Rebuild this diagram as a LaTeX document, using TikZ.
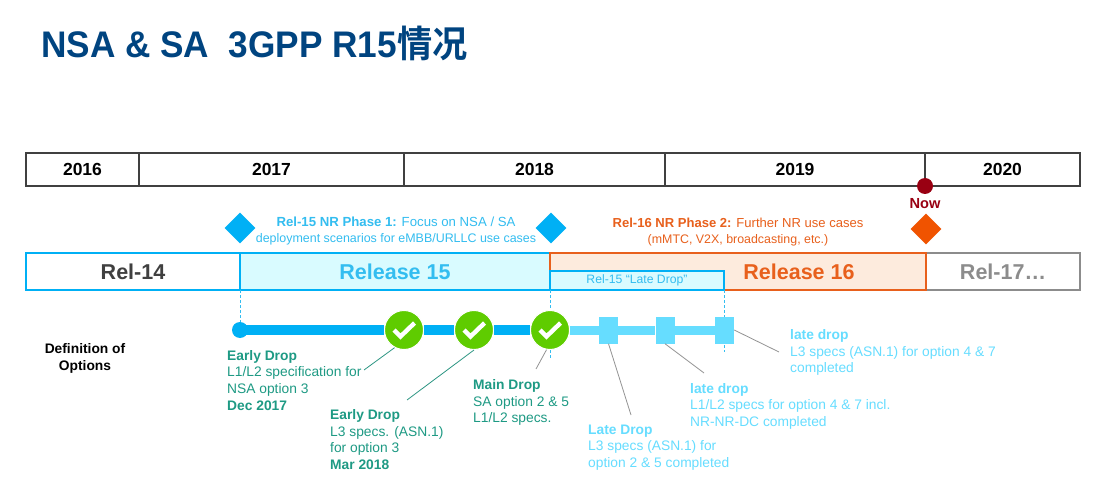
\documentclass[tikz,border=0pt]{standalone}
\usepackage{fontspec}
\setmainfont{Liberation Sans}
\newfontfamily\cjkfont{Noto Sans CJK SC}[BoldFont={* Bold}]
\usetikzlibrary{shapes.geometric}
\definecolor{navy}{HTML}{004480}
\definecolor{blueA}{HTML}{00B0F5}
\definecolor{blueT}{HTML}{33BDF0}
\definecolor{cyanL}{HTML}{66DDFF}
\definecolor{cyanF}{HTML}{D9FBFF}
\definecolor{orangeA}{HTML}{E8601C}
\definecolor{orangeD}{HTML}{F05300}
\definecolor{orangeF}{HTML}{FDEBDD}
\definecolor{grayR}{HTML}{8C8C8C}
\definecolor{darkR}{HTML}{990012}
\definecolor{tealT}{HTML}{1E9A84}
\definecolor{greenC}{HTML}{5FCC00}
\definecolor{yearL}{HTML}{404040}
\tikzset{
 x=1pt,y=-1pt,
 band/.style={draw,minimum height=#1,inner sep=0pt,outer sep=0pt,anchor=north west},
 yearbox/.style={draw=yearL,line width=1.7pt,minimum height=33pt,inner sep=0pt,outer sep=0pt,anchor=north west,font=\fontsize{17.5}{17.5}\selectfont\bfseries,text=black},
 relbox/.style={line width=1.8pt,minimum height=37pt,inner sep=0pt,outer sep=0pt,anchor=north west,font=\fontsize{21.5}{21.5}\selectfont\bfseries},
 mark diamond/.style={diamond,fill=#1,inner sep=0pt,minimum width=31pt,minimum height=31pt,aspect=1},
 check node/.style={circle,fill=greenC,draw=white,line width=1pt,minimum size=39pt,inner sep=0pt},
 sq node/.style={fill=cyanL,minimum width=19pt,minimum height=27pt,inner sep=0pt},
 lbl/.style={anchor=north west,inner sep=0pt,align=left,font=\fontsize{13.8}{16.6}\selectfont},
 hdr/.style={inner sep=0pt,align=center},
 drop dark/.style={line width=10pt,draw=blueA},
 drop light/.style={line width=9pt,draw=cyanL},
 dash link/.style={draw=blueT,line width=0.5pt,dashed,dash pattern=on 2.5pt off 2.5pt},
 lead teal/.style={draw=tealT!85!gray,line width=0.8pt},
 lead gray/.style={draw=gray!85,line width=0.8pt},
 tick mark/.style={draw=white,line width=4.4pt,line join=miter}
}
\begin{document}
\begin{tikzpicture}
\useasboundingbox (0,0) rectangle (1111,497);
\fill[white] (0,0) rectangle (1111,497);
% title
\node[anchor=west,inner sep=0pt,text=navy,font=\fontsize{37}{37}\selectfont\bfseries] (title) at (41,43)
 {\scalebox{0.951}[1]{NSA \& SA\ \ 3GPP R15{\cjkfont 情况}}};
% years
\node[yearbox,minimum width=113pt] (y16) at (26,153) {2016};
\node[yearbox,minimum width=265pt] (y17) at (139,153) {2017};
\node[yearbox,minimum width=261pt] (y18) at (404,153) {2018};
\node[yearbox,minimum width=260pt] (y19) at (665,153) {2019};
\node[yearbox,minimum width=155pt] (y20) at (925,153) {2020};
% release bands
\node[relbox,draw=blueA,text=yearL,minimum width=214pt] (r14) at (26,253) {Rel-14};
\node[relbox,draw=grayR,text=grayR,minimum width=154pt] (r17) at (926,253) {Rel-17…};
\node[relbox,draw=blueA,fill=cyanF,text=blueT,minimum width=310pt] (r15) at (240,253) {Release 15};
\node[relbox,draw=orangeA,fill=orangeF,text=orangeA,minimum width=376pt] (r16) at (550,253) {\hspace*{122pt}Release 16};
\node[band=19pt,draw=blueA,line width=1.8pt,fill=cyanF,text=blueT,minimum width=174pt,font=\fontsize{12.2}{12.2}\selectfont] (late) at (550,271) {Rel-15 “Late Drop”};
% now
\node[circle,fill=darkR,minimum size=16pt,inner sep=0pt] (now) at (925,186) {};
\node[inner sep=0pt,text=darkR,font=\fontsize{14.6}{14.6}\selectfont\bfseries] (nowt) at (925,204) {Now};
% diamonds
\node[mark diamond=blueA] (d1) at (240,228) {};
\node[mark diamond=blueA] (d2) at (551,228) {};
\node[mark diamond=orangeD] (d3) at (926,229) {};
% phase text
\node[hdr,text=blueT,font=\fontsize{12.45}{16.5}\selectfont] (p1) at (396,231) {{\fontsize{13.2}{16.5}\selectfont\textbf{Rel-15 NR Phase 1:} Focus on NSA / SA}\\[0pt]deployment scenarios for eMBB/URLLC use cases};
\node[hdr,text=orangeA,font=\fontsize{12.4}{16.5}\selectfont] (p2) at (738,232) {{\fontsize{13.05}{16.5}\selectfont\textbf{Rel-16 NR Phase 2:} Further NR use cases}\\[0pt](mMTC, V2X, broadcasting, etc.)};
% definition
\node[inner sep=0pt,align=center,font=\fontsize{13.8}{17}\selectfont\bfseries] (def) at (85,358) {Definition of\\Options};
% dashed links
\coordinate (t15) at (240,290); \coordinate (tb15) at (240,322);
\coordinate (t16) at (550,290); \coordinate (tb16) at (550,358);
\coordinate (tl) at (724,290); \coordinate (tbl) at (724,352);
\draw[dash link] (t15) -- (tb15);
\draw[dash link] (t16) -- (tb16);
\draw[dash link] (tl) -- (tbl);
% timeline
\node[circle,fill=blueA,minimum size=16pt,inner sep=0pt] (start) at (240,330) {};
\node[check node] (c1) at (404,330) {};
\node[check node] (c2) at (474,330) {};
\node[check node] (c3) at (550,330) {};
\node[sq node] (s1) at (608.5,330) {};
\node[sq node] (s2) at (665,330) {};
\node[sq node] (s3) at (724.5,330) {};
\draw[drop dark] (start.center) -- (c1);
\draw[drop dark] (c1) -- (c2);
\draw[drop dark] (c2) -- (c3);
\draw[drop light] (c3) -- (s1);
\draw[drop light] (s1) -- (s2);
\draw[drop light] (s2) -- (s3);
\foreach \c in {c1,c2,c3}{
 \draw[tick mark] ([shift={(-10,0)}]\c.center) -- ([shift={(-3.5,6.5)}]\c.center) -- ([shift={(10.5,-7)}]\c.center);
}
% leaders
\coordinate (e1) at (364,370);
\coordinate (e2) at (407,400);
\coordinate (e3) at (536,369);
\coordinate (e4) at (631,415);
\coordinate (e5) at (704,373);
\coordinate (e6) at (779,352);
\draw[lead teal] (c1.-118) -- (e1);
\draw[lead teal] (c2.-90) -- (e2);
\draw[lead gray] (c3.-100) -- (e3);
\draw[lead gray] (s1.south) -- (e4);
\draw[lead gray] (s2.south) -- (e5);
\draw[lead gray] (s3.east) -- (e6);
% labels
\node[lbl,text=tealT] (l1) at (227,350) {\textbf{Early Drop}\\L1/L2 specification for\\NSA option 3\\\textbf{Dec 2017}};
\node[lbl,text=tealT] (l2) at (330,409.5) {\textbf{Early Drop}\\L3 specs. (ASN.1)\\for option 3\\\textbf{Mar 2018}};
\node[lbl,text=tealT] (l3) at (473,379.5) {\textbf{Main Drop}\\SA option 2 \& 5\\L1/L2 specs.};
\node[lbl,text=cyanL] (l4) at (588,424.5) {\textbf{Late Drop}\\L3 specs (ASN.1) for\\option 2 \& 5 completed};
\node[lbl,text=cyanL] (l5) at (690,383) {\textbf{late drop}\\L1/L2 specs for option 4 \& 7 incl.\\NR-NR-DC completed};
\node[lbl,text=cyanL] (l6) at (790,329.5) {\textbf{late drop}\\L3 specs (ASN.1) for option 4 \& 7\\completed};
\end{tikzpicture}
\end{document}
